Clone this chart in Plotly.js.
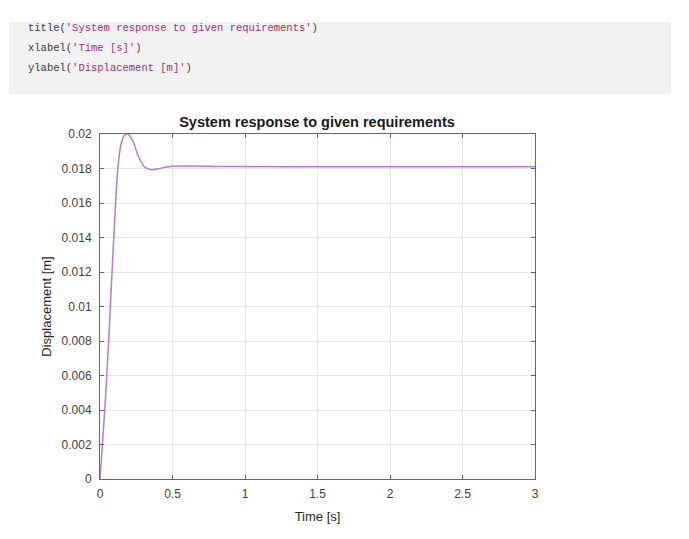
<!DOCTYPE html>
<html>
<head>
<meta charset="utf-8">
<script src="https://cdn.plot.ly/plotly-3.0.1.min.js"></script>
<style>html,body{margin:0;padding:0;background:#fff;}#chart{width:689px;height:539px;}</style>
</head>
<body>
<div id="chart"></div>
<script>
// Data
const timeS = [0, 0.02, 0.04, 0.06, 0.08, 0.1, 0.12, 0.14, 0.16, 0.18, 0.19, 0.2, 0.22, 0.24, 0.26, 0.28, 0.3, 0.33, 0.36, 0.4, 0.45, 0.5, 0.55, 0.6, 0.7, 0.8, 1.0, 1.5, 2.0, 2.5, 3.0];
const displacementM = [0, 0.0024, 0.0050, 0.0080, 0.0115, 0.0148, 0.0177, 0.0192, 0.0198, 0.0200, 0.0200, 0.01995, 0.0197, 0.0193, 0.0188, 0.01845, 0.01815, 0.01798, 0.01793, 0.01798, 0.01807, 0.01813, 0.01815, 0.01815, 0.01813, 0.01812, 0.01811, 0.0181, 0.0181, 0.0181, 0.0181];
const xTickVals = [0, 0.5, 1, 1.5, 2, 2.5, 3];
const xTickText = ['0', '0.5', '1', '1.5', '2', '2.5', '3'];
const yTickVals = [0, 0.002, 0.004, 0.006, 0.008, 0.01, 0.012, 0.014, 0.016, 0.018, 0.02];
const yTickText = ['0', '0.002', '0.004', '0.006', '0.008', '0.01', '0.012', '0.014', '0.016', '0.018', '0.02'];
const codeLines = [
  ["title(", "'System response to given requirements'", ")"],
  ["xlabel(", "'Time [s]'", ")"],
  ["ylabel(", "'Displacement [m]'", ")"]
];

// plot-area geometry (pixels)
const W = 689, H = 539;
const L = 100, R = 535, T = 134, B = 479;
function px2x(px) { return (px - L) / (R - L); }
function py2y(py) { return (B - py) / (B - T); }

const annotations = codeLines.map((parts, i) => ({
  xref: 'paper', yref: 'paper',
  x: px2x(26), y: py2y(28 + i * 20),
  xanchor: 'left', yanchor: 'middle',
  showarrow: false,
  text: '<span style="color:#3a3a3a">' + parts[0] + '</span>' +
        '<span style="color:#a0306e">' + parts[1] + '</span>' +
        '<span style="color:#3a3a3a">' + parts[2] + '</span>',
  font: {family: 'Liberation Mono, DejaVu Sans Mono, monospace', size: 10.5, color: '#3a3a3a'}
}));

const shapes = [
  {type: 'rect', xref: 'paper', yref: 'paper', layer: 'below',
   x0: px2x(10), x1: px2x(670), y0: py2y(93), y1: py2y(23),
   fillcolor: '#f2f2f2', line: {color: '#e8e8e8', width: 1}}
];

const trace = {
  x: timeS, y: displacementM, type: 'scatter', mode: 'lines',
  line: {color: '#b47fca', width: 1.5, shape: 'spline', smoothing: 0.7},
  hoverinfo: 'skip', cliponaxis: true
};

const axisCommon = {
  showline: true, mirror: 'ticks', linecolor: '#666666', linewidth: 1,
  ticks: 'inside', ticklen: 4, tickcolor: '#666666', tickwidth: 1,
  showgrid: true, gridcolor: '#e6e6e6', gridwidth: 1,
  zeroline: false, tickmode: 'array',
  tickfont: {family: 'Liberation Sans, Arial, sans-serif', size: 12, color: '#404040'}
};

const layout = {
  width: W, height: H,
  margin: {l: L, r: W - R, t: T, b: H - B, pad: 0},
  paper_bgcolor: '#ffffff', plot_bgcolor: '#ffffff',
  showlegend: false,
  title: {
    text: '<b>System response to given requirements</b>',
    font: {family: 'Liberation Sans, Arial, sans-serif', size: 14.5, color: '#1a1a1a'},
    x: px2x(317), xref: 'paper', xanchor: 'center',
    y: 1 - 122 / H, yref: 'container', yanchor: 'middle'
  },
  xaxis: Object.assign({}, axisCommon, {
    range: [0, 3], tickvals: xTickVals, ticktext: xTickText,
    ticklabelstandoff: 4,
    title: {text: 'Time [s]', standoff: 11,
      font: {family: 'Liberation Sans, Arial, sans-serif', size: 13, color: '#262626'}}
  }),
  yaxis: Object.assign({}, axisCommon, {
    range: [0, 0.02], tickvals: yTickVals, ticktext: yTickText,
    ticklabelstandoff: 5,
    title: {text: 'Displacement [m]', standoff: 7,
      font: {family: 'Liberation Sans, Arial, sans-serif', size: 13, color: '#262626'}}
  }),
  annotations: annotations,
  shapes: shapes
};

Plotly.newPlot('chart', [trace], layout, {displayModeBar: false, staticPlot: true});
</script>
</body>
</html>
